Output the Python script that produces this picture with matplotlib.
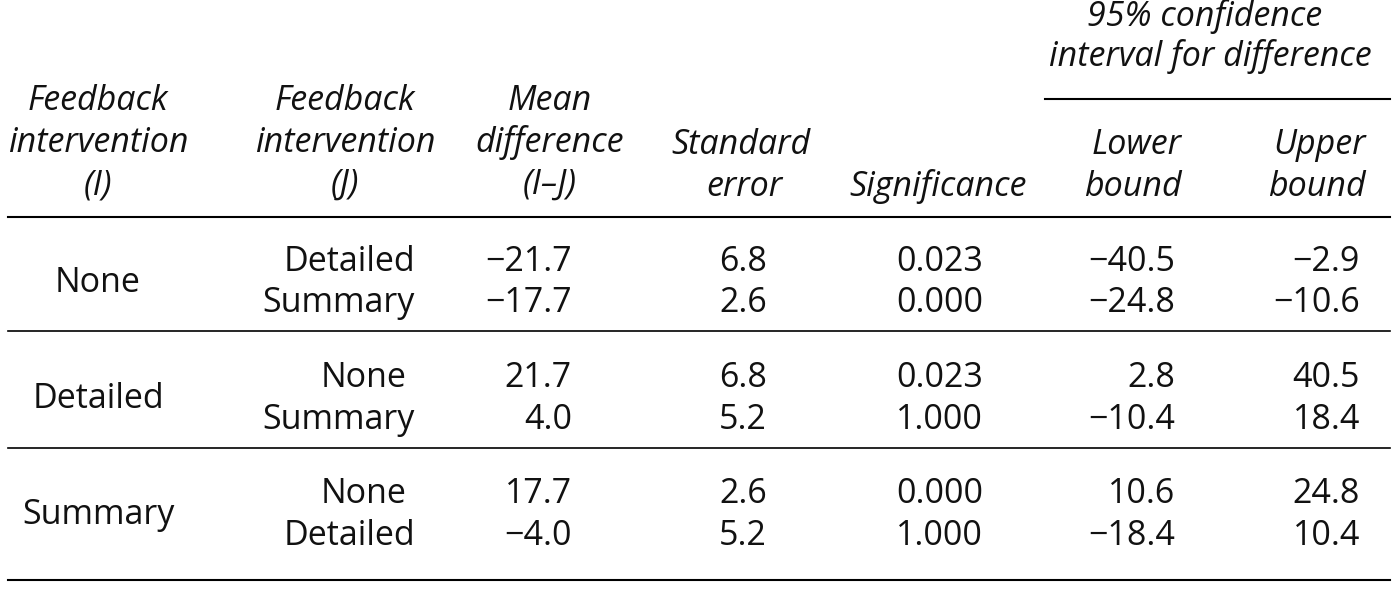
import matplotlib
matplotlib.use("Agg")
import matplotlib.pyplot as plt

groups = ["None", "Detailed", "Summary"]
comparisons = [["Detailed", "Summary"], ["None", "Summary"], ["None", "Detailed"]]
mean_diff = [["−21.7", "−17.7"], ["21.7", "4.0"], ["17.7", "−4.0"]]
std_err = [["6.8", "2.6"], ["6.8", "5.2"], ["2.6", "5.2"]]
signif = [["0.023", "0.000"], ["0.023", "1.000"], ["0.000", "1.000"]]
lower = [["−40.5", "−24.8"], ["2.8", "−10.4"], ["10.6", "−18.4"]]
upper = [["−2.9", "−10.6"], ["40.5", "18.4"], ["24.8", "10.4"]]

W, H = 1396, 599
fig = plt.figure(figsize=(W/100, H/100), dpi=100)
ax = fig.add_axes([0, 0, 1, 1])
ax.set_xlim(0, W); ax.set_ylim(H, 0); ax.axis("off")
plt.rcParams["font.family"] = ["Open Sans", "DejaVu Sans"]
fs = 24.5
kw = dict(fontsize=fs, va="center", color="#111")
hk = dict(kw, style="italic")

ax.text(1205, 16, "95% confidence", ha="center", **hk)
ax.text(1210, 57, "interval for difference", ha="center", **hk)
ax.plot([1045, 1390], [99, 99], color="black", lw=1.5)
for x, lines in [(98, ["Feedback", "intervention", "(I)"]),
                 (345, ["Feedback", "intervention", "(J)"]),
                 (550, ["Mean", "difference", "(I–J)"])]:
    for y, t in zip([101, 143, 185], lines):
        ax.text(x, y, t, ha="center", **hk)
ax.text(810, 145, "Standard", ha="right", **hk)
ax.text(782, 187, "error", ha="right", **hk)
ax.text(938, 187, "Significance", ha="center", **hk)
ax.text(1182, 145, "Lower", ha="right", **hk)
ax.text(1182, 187, "bound", ha="right", **hk)
ax.text(1366, 145, "Upper", ha="right", **hk)
ax.text(1366, 187, "bound", ha="right", **hk)

ax.plot([8, 1390], [217, 217], color="black", lw=1.5)
row_y = [(262, 303), (378, 420), (494, 536)]
for gi, g in enumerate(groups):
    ys = row_y[gi]
    ax.text(98, (ys[0]+ys[1])/2, g, ha="center", **kw)
    for k in range(2):
        y = ys[k]
        c = comparisons[gi][k]
        if c == "None":
            ax.text(364, y, c, ha="center", **kw)
        else:
            ax.text(415, y, c, ha="right", **kw)
        ax.text(572, y, mean_diff[gi][k], ha="right", **kw)
        ax.text(767, y, std_err[gi][k], ha="right", **kw)
        ax.text(983, y, signif[gi][k], ha="right", **kw)
        ax.text(1175, y, lower[gi][k], ha="right", **kw)
        ax.text(1360, y, upper[gi][k], ha="right", **kw)
for y in [331, 448]:
    ax.plot([8, 1390], [y, y], color="black", lw=1.2)
ax.plot([8, 1390], [580, 580], color="black", lw=1.5)
fig.savefig("out.png", dpi=100, facecolor="white")
